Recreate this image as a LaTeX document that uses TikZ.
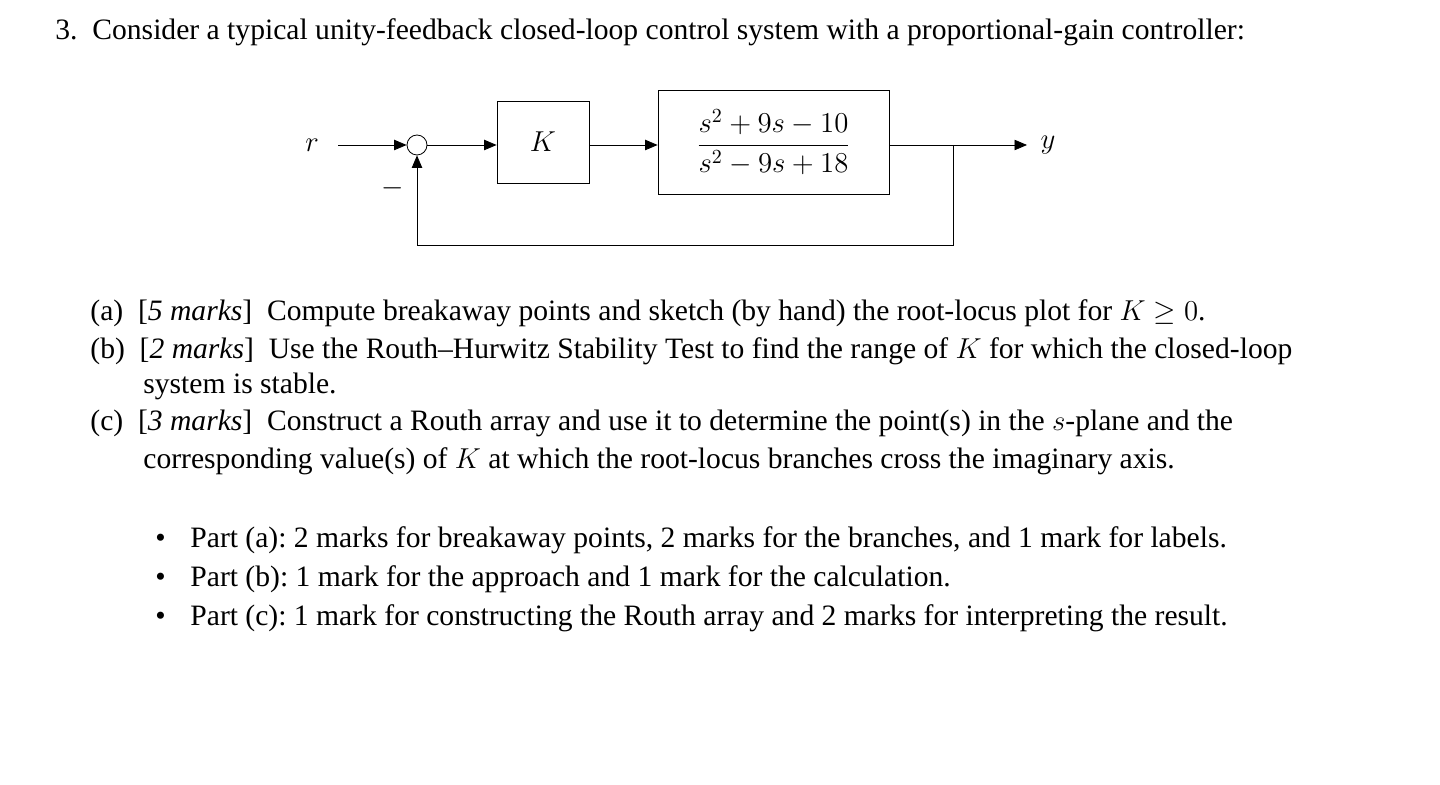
\documentclass[tikz,border=0pt]{standalone}
\usepackage{fontspec}
\setmainfont{Liberation Serif}
\usetikzlibrary{arrows,calc}
\frenchspacing
\begin{document}
\begin{tikzpicture}[x=0.5pt,y=-0.5pt,>=triangle 45]
	\fontsize{14.8}{18}\selectfont
	\useasboundingbox (0,0) rectangle (1440,785);
	\tikzset{txt/.style={anchor=base west,inner sep=0pt}}
	\node[txt] (q) at (55,40) {3.\ \ Consider a typical unity-feedback closed-loop control system with a proportional-gain controller:};
	% block diagram
	\node (r) at (312,145) {$r$};
	\node[draw,circle,minimum size=10pt,inner sep=0pt] (sum) at (417,145) {};
	\node[draw,minimum width=46pt,minimum height=41pt] (K) at (543,142) {$K$};
	\node[draw,minimum width=115.5pt,minimum height=52pt] (G) at (773.5,142)
		{$\displaystyle\frac{s^2+9s-10}{s^2-9s+18}$};
	\node (y) at (1048,145) {$y$};
	\node (minus) at (393,188) {$-$};
	\coordinate (br) at (953,145);
	\coordinate (fb) at (953,245);
	\draw [->] (338,145) -- (sum.west);
	\draw [->] (sum.east) -- (K.west |- sum.east);
	\draw [->] (K.east |- sum.east) -- (G.west |- sum.east);
	\draw [->] (G.east |- sum.east) -- (1027,145);
	\draw [->] (br) -- (fb) -| (sum.south);
	% questions
	\node[txt] (a) at (90,321) {(a)\ \ [\textit{5 marks}]\ \ Compute breakaway points and sketch (by hand) the root-locus plot for $K\geq 0$.};
	\node[txt] (b) at (90,359) {(b)\ \ [\textit{2 marks}]\ \ Use the Routh--Hurwitz Stability Test to find the range of $K$ for which the closed-loop};
	\node[txt] (b2) at (143,394) {system is stable.};
	\node[txt] (c) at (90,431) {(c)\ \ [\textit{3 marks}]\ \ Construct a Routh array and use it to determine the point(s) in the $s$-plane and the};
	\node[txt] (c2) at (143,469) {corresponding value(s) of $K$ at which the root-locus branches cross the imaginary axis.};
	\foreach \yy/\t in {548/{Part (a): 2 marks for breakaway points, 2 marks for the branches, and 1 mark for labels.},
		587/{Part (b): 1 mark for the approach and 1 mark for the calculation.},
		625/{Part (c): 1 mark for constructing the Routh array and 2 marks for interpreting the result.}} {
		\node[txt] at (155,\yy) {\textbullet};
		\node[txt] at (190,\yy) {\t};
	}
\end{tikzpicture}
\end{document}
